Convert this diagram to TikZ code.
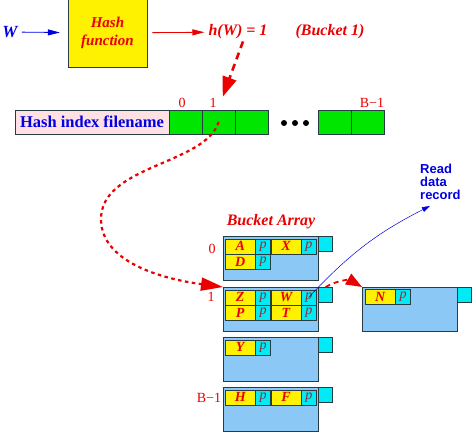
\documentclass[tikz,border=0pt]{standalone}
\usepackage{fontspec}
\setmainfont{Liberation Serif}
\setsansfont{Liberation Sans}
\usetikzlibrary{calc,arrows.meta,positioning}
\definecolor{boxblue}{RGB}{140,200,245}
\definecolor{edgegray}{RGB}{40,60,70}
\definecolor{cellcyan}{RGB}{0,235,245}
\definecolor{cellgreen}{RGB}{0,230,0}
\definecolor{namepink}{RGB}{255,225,228}
\definecolor{hred}{RGB}{235,0,0}
\definecolor{hblue}{RGB}{0,0,225}
\definecolor{ptrred}{RGB}{150,40,50}
\tikzset{
  red text/.style={text=hred, font=\fontsize{16}{16}\selectfont\bfseries\itshape, inner sep=1pt},
  blue text/.style={text=hblue, font=\fontsize{17}{17}\selectfont\bfseries\itshape, inner sep=1pt},
  hash box/.style={draw=edgegray, fill=yellow, minimum width=79, minimum height=69,
        align=center, text=hred, font=\fontsize{15}{18}\selectfont\bfseries\itshape},
  name box/.style={draw=edgegray, fill=namepink, minimum width=154, minimum height=24,
        inner sep=0, text=hblue, font=\fontsize{16.5}{16.5}\selectfont\bfseries},
  green cell/.style={draw=edgegray, fill=cellgreen, minimum width=33, minimum height=24,
        inner sep=0, anchor=west},
  idx label/.style={text=hred, font=\fontsize{14}{14}\selectfont, inner sep=0},
  bucket box/.style={draw=edgegray, fill=boxblue, minimum width=95, minimum height=44,
        inner sep=0, anchor=north west},
  tab box/.style={draw=edgegray, fill=cellcyan, minimum width=14, minimum height=15,
        inner sep=0, anchor=north west},
  key cell/.style={draw=edgegray, fill=yellow, minimum width=30, minimum height=15,
        inner sep=0, anchor=north west, text=hred, font=\fontsize{14}{14}\selectfont\bfseries\itshape},
  ptr cell/.style={key cell, fill=cellcyan, minimum width=15, text=ptrred,
        font=\fontsize{14}{14}\selectfont\itshape},
  read label/.style={text=hblue, font=\fontsize{13}{13}\selectfont\sffamily\bfseries,
        align=left, anchor=north west, inner sep=0},
  red arrow/.style={draw=hred, line width=0.8pt, -{Triangle[length=12pt,width=6pt]}},
  blue arrow/.style={draw=hblue, line width=0.8pt, -{Triangle[length=12pt,width=6pt]}},
  blue thin/.style={draw=hblue, line width=0.5pt, -{Triangle[length=8pt,width=5pt]}},
  red dashes/.style={draw=hred, line width=2.6pt, dash pattern=on 7pt off 5pt,
        -{Triangle[length=20pt,width=14pt]}},
  red dashes thin/.style={draw=hred, line width=1.8pt, dash pattern=on 5pt off 4pt,
        -{Triangle[length=16pt,width=12pt]}},
  red dots/.style={draw=hred, line width=2.2pt, dash pattern=on 3.5pt off 3.5pt,
        -{Triangle[length=22pt,width=13pt]}},
}
\def\Bucket#1#2#3#4{%
  \node[bucket box, minimum width=#4] (#1) at (#2,#3) {};
  \node[tab box] (#1-tab) at (#1.north east) {};
}
\def\Entry#1#2#3{%
  \node[key cell] (#1) at (#2) {#3};
  \node[ptr cell] (#1-p) at (#1.north east) {p};
}

\begin{document}
\begin{tikzpicture}[x=1pt, y=-1pt]
\useasboundingbox (0,0) rectangle (474,433);
% hashing the key
\node[blue text] (w) at (10,32) {W};
\node[hash box] (hashfn) at (107.5,33) {Hash\\function};
\node[red text] (hw) at (238,32) {h(W) = 1};
\node[red text] (bkt) at (330,32) {(Bucket 1)};
\draw[blue arrow, shorten <=3pt, shorten >=8pt] (w) -- (hashfn);
\draw[red arrow, shorten <=5pt, shorten >=3pt] (hashfn) -- (hw);

% hash index file
\node[name box] (fname) at (92,122) {Hash index filename};
\foreach \i/\x in {0/169,1/202,2/235,3/318,4/351}
  \node[green cell] (c\i) at (\x,122) {};
\foreach \x in {284,295,306}
  \fill (\x,123) circle (3);
\node[idx label] (l0) at (182,103) {0};
\node[idx label] (l1) at (213,103) {1};
\node[idx label] (lb) at (372,103) {B−1};
\draw[red dashes] ($(hw.south)+(5,1)$) -- ($(c1.north)+(4,-13)$);

% bucket array
\node[red text] (arrlbl) at (271,222) {Bucket Array};
\Bucket{b0}{223}{236}{95}
\Entry{eA}{$(b0.north west)+(2,2.5)$}{A}
\Entry{eX}{eA-p.north east}{X}
\Entry{eD}{eA.south west}{D}
\Bucket{b1}{223}{287}{95}
\Entry{eZ}{$(b1.north west)+(2,2.5)$}{Z}
\Entry{eW}{eZ-p.north east}{W}
\Entry{eP}{eZ.south west}{P}
\Entry{eT}{eP-p.north east}{T}
\Bucket{b2}{223}{337}{95}
\Entry{eY}{$(b2.north west)+(2,2.5)$}{Y}
\Bucket{b3}{223}{387}{95}
\Entry{eH}{$(b3.north west)+(2,2.5)$}{H}
\Entry{eF}{eH-p.north east}{F}
\Bucket{ov}{362}{287}{95}
\Entry{eN}{$(ov.north west)+(3,2)$}{N}
\node[idx label] (n0) at ($(b0.north west)+(-11,13)$) {0};
\node[idx label] (n1) at ($(b1.north west)+(-12,10)$) {1};
\node[idx label] (nb) at ($(b3.north west)+(-14,11)$) {B−1};

\draw[red dots] (c1.center) .. controls (205,165) and (100,165) .. (101,220)
  .. controls (102,265) and (170,280) .. (b1.north west);
\draw[red dashes thin] (b1-tab.north) to[bend left=30] (ov.north west);

% reading the record
\node[read label] (rdr) at (420,164) {Read\\data\\record};
\draw[blue thin] (eW-p.center) to[bend left=10] ($(rdr.south west)+(10,6)$);
\end{tikzpicture}
\end{document}
